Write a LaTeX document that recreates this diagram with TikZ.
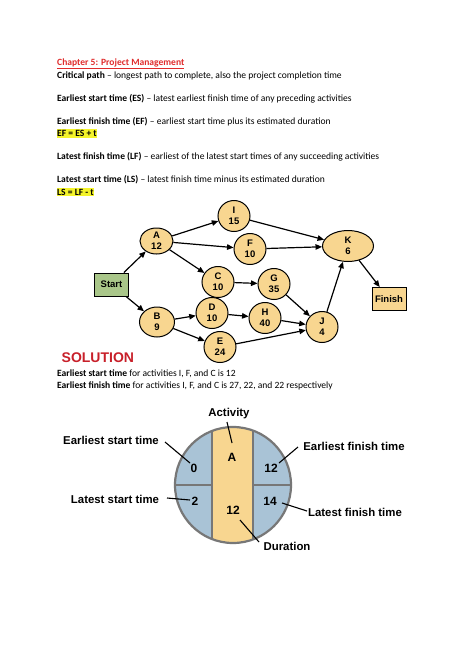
\documentclass[tikz,border=0pt]{standalone}
\usepackage{fontspec}
\setmainfont{Carlito}
\newfontfamily\arial{Liberation Sans}
\usetikzlibrary{shapes.geometric,arrows.meta}
\definecolor{nodefill}{HTML}{F8D690}
\definecolor{startfill}{HTML}{A9C689}
\definecolor{bluefill}{HTML}{A9C3D6}
\definecolor{greyline}{HTML}{777777}
\definecolor{headred}{HTML}{E02B2B}
\definecolor{solred}{HTML}{C8202A}
\definecolor{hl}{HTML}{F4F42A}
\tikzset{
  body/.style={anchor=west, inner sep=0pt, font=\fontsize{9.55}{11}\selectfont},
  hilite/.style={anchor=west, fill=hl, inner xsep=0.6pt, inner ysep=1.2pt, font=\fontsize{9.55}{11}\selectfont\bfseries},
  act/.style={ellipse, draw, line width=1pt, fill=nodefill, minimum width=32pt, minimum height=31pt, inner sep=0pt, align=center, font=\arial\bfseries\fontsize{9.5}{11}\selectfont},
  term/.style={rectangle, draw, line width=1pt, minimum width=34pt, minimum height=23pt, inner sep=0pt, font=\arial\bfseries\fontsize{9.5}{11}\selectfont},
  arr/.style={line width=1.2pt, -{Triangle[length=6.5pt,width=5.5pt]}},
  lbl/.style={inner sep=0pt, font=\arial\bfseries\fontsize{11.4}{13}\selectfont},
  num/.style={inner sep=0pt, font=\arial\bfseries\fontsize{12}{14}\selectfont},
  lead/.style={line width=1.1pt}
}
\begin{document}
\begin{tikzpicture}[x=1pt,y=-1pt]
\useasboundingbox[fill=white] (0,0) rectangle (474,670);
% text
\node[body, text=headred] (h) at (57,64) {\bfseries\underline{Chapter 5: Project Management}};
\node[body] (t1) at (57,75.5) {\textbf{Critical path} – longest path to complete, also the project completion time};
\node[body] (t2) at (57,99) {\textbf{Earliest start time (ES)} – latest earliest finish time of any preceding activities};
\node[body] (t3) at (57,122) {\textbf{Earliest finish time (EF)} – earliest start time plus its estimated duration};
\node[hilite] (t4) at (56.4,133.5) {EF = ES + t};
\node[body] (t5) at (57,157) {\textbf{Latest finish time (LF)} – earliest of the latest start times of any succeeding activities};
\node[body] (t6) at (57,180) {\textbf{Latest start time (LS)} – latest finish time minus its estimated duration};
\node[hilite] (t7) at (56.4,192) {LS = LF - t};
% network
\node[term, fill=startfill] (start) at (111.5,284.5) {Start};
\node[term, fill=nodefill] (finish) at (389,299) {Finish};
\node[act, minimum width=33pt, minimum height=26pt] (A) at (156.5,241) {A\\12};
\node[act, minimum width=35pt, minimum height=30pt] (B) at (157,322) {B\\9};
\node[act] (I) at (234,216) {I\\15};
\node[act] (F) at (250,249) {F\\10};
\node[act] (C) at (218,282) {C\\10};
\node[act] (G) at (274,284) {G\\35};
\node[act] (D) at (212,313) {D\\10};
\node[act] (H) at (265,318) {H\\40};
\node[act] (E) at (220,347) {E\\24};
\node[act] (J) at (322,327) {J\\4};
\node[act, minimum width=51pt, minimum height=31pt] (K) at (348,246) {K\\6};
\draw[arr] (start) -- (A);
\draw[arr] (start) -- (B);
\draw[arr] (A) -- (I);
\draw[arr] (A) -- (F);
\draw[arr] (A) -- (C);
\draw[arr] (I) -- (K);
\draw[arr] (F) -- (K);
\draw[arr] (C) -- (G);
\draw[arr] (G) -- (J);
\draw[arr] (B) -- (D);
\draw[arr] (B) -- (E);
\draw[arr] (D) -- (H);
\draw[arr] (H) -- (J);
\draw[arr] (E) -- (J);
\draw[arr] (J) -- (K);
\draw[arr] (K) -- (finish);
% solution
\node[anchor=west, inner sep=0pt, text=solred, font=\arial\bfseries\fontsize{14}{16}\selectfont] (sol) at (61.5,358) {SOLUTION};
\node[body] (s1) at (57,374) {\textbf{Earliest start time} for activities I, F, and C is 12};
\node[body] (s2) at (57,386) {\textbf{Earliest finish time} for activities I, F, and C is 27, 22, and 22 respectively};
% activity-on-node legend
\begin{scope}
\clip (233,485) circle (58);
\fill[bluefill] (170,420) rectangle (296,550);
\fill[nodefill] (212,420) rectangle (253,550);
\draw[greyline, line width=1.8pt] (212,420) -- (212,550) (253,420) -- (253,550);
\draw[greyline, line width=1.8pt] (170,485) -- (212,485) (253,485) -- (296,485);
\end{scope}
\node[draw=greyline, line width=2.2pt, circle, minimum size=116pt, inner sep=0pt] (circ) at (233,485) {};
\node[num] (nA) at (232,457) {A};
\node[num] (nD) at (233,510) {12};
\node[num] (nES) at (194,468) {0};
\node[num] (nEF) at (271,468) {12};
\node[num] (nLS) at (195,501) {2};
\node[num] (nLF) at (270,501) {14};
\node[lbl] (lAct) at (229,414) {Activity};
\node[lbl] (lES) at (111,440) {Earliest start time};
\node[lbl] (lEF) at (354,446) {Earliest finish time};
\node[lbl] (lLS) at (115,499) {Latest start time};
\node[lbl] (lLF) at (355,512) {Latest finish time};
\node[lbl] (lDur) at (287,546) {Duration};
\coordinate (cAct) at (232,443);
\coordinate (cES) at (190,463);
\coordinate (cEF) at (279,463);
\coordinate (cLS) at (190,500);
\coordinate (cLF) at (282,503);
\coordinate (cDur) at (240,520);
\draw[lead] (227,422) -- (cAct);
\draw[lead] (165,442) -- (cES);
\draw[lead] (298,447) -- (cEF);
\draw[lead] (167,498) -- (cLS);
\draw[lead] (307,511) -- (cLF);
\draw[lead] (259,542) -- (cDur);
\end{tikzpicture}
\end{document}
